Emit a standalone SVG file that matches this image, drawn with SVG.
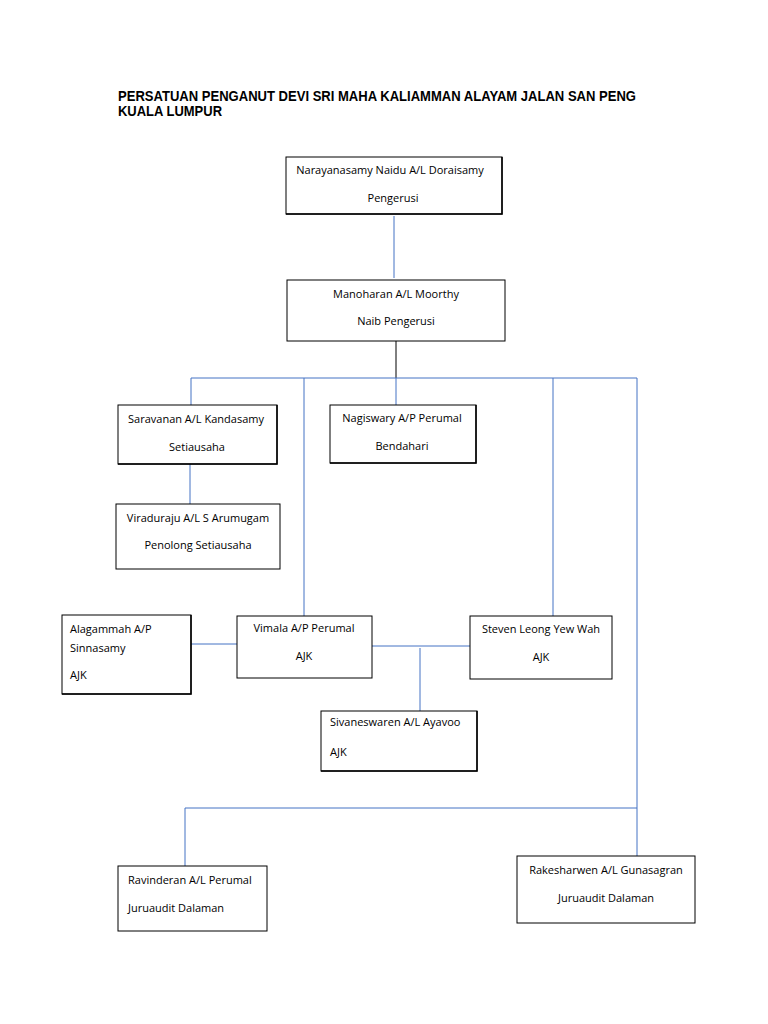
<svg xmlns="http://www.w3.org/2000/svg" width="768" height="1024" viewBox="0 0 768 1024">
<style>
.b{fill:#fff;stroke:#000;stroke-width:1}
.s{fill:none;stroke:#000;stroke-width:1.5}
text{font-family:"Open Sans","Liberation Sans",sans-serif;font-size:11px;fill:#000}
.c{text-anchor:middle}
.t{font-family:"Liberation Sans",sans-serif;font-weight:bold;font-size:14px}
.l{stroke:#4472c4;stroke-width:1;fill:none}
</style>
<rect width="768" height="1024" fill="#fff"/>
<text class="t" x="118" y="101" textLength="518" lengthAdjust="spacingAndGlyphs">PERSATUAN PENGANUT DEVI SRI MAHA KALIAMMAN ALAYAM JALAN SAN PENG</text>
<text class="t" x="118" y="116" textLength="104" lengthAdjust="spacingAndGlyphs">KUALA LUMPUR</text>
<g id="connectors">
<path class="l" d="M394 216V278"/>
<path d="M396 341V378" stroke="#000" fill="none"/>
<path class="l" d="M191 378H637M191 378V405M304 378V616M396 378V405M553 378V616M637 378V856M185 808H637M185 808V866M190 464V504M191 644H237M372 646H470M420 648V711"/>
</g>
<g id="n1"><rect class="b" x="286" y="157" width="216" height="57"/><path class="s" d="M502 157V214H286"/><text class="c" x="390" y="174">Narayanasamy Naidu A/L Doraisamy</text><text class="c" x="393" y="202">Pengerusi</text></g>
<g id="n2"><rect class="b" x="287" y="280" width="218" height="61" stroke-width="1.5"/><text class="c" x="396" y="298">Manoharan A/L Moorthy</text><text class="c" x="396" y="325">Naib Pengerusi</text></g>
<g id="n3"><rect class="b" x="118" y="405" width="159" height="59"/><path class="s" d="M277 405V464H118"/><text class="c" x="196" y="423">Saravanan A/L Kandasamy</text><text class="c" x="197" y="451">Setiausaha</text></g>
<g id="n4"><rect class="b" x="330" y="405" width="146" height="58"/><path class="s" d="M476 405V463H330"/><text class="c" x="402" y="422">Nagiswary A/P Perumal</text><text class="c" x="402" y="450">Bendahari</text></g>
<g id="n5"><rect class="b" x="116" y="504" width="164" height="65"/><text class="c" x="198" y="522">Viraduraju A/L S Arumugam</text><text class="c" x="198" y="549">Penolong Setiausaha</text></g>
<g id="n6"><rect class="b" x="62" y="615" width="129" height="79"/><path class="s" d="M191 615V694H62"/><text x="70" y="633">Alagammah A/P</text><text x="70" y="652">Sinnasamy</text><text x="70" y="679">AJK</text></g>
<g id="n7"><rect class="b" x="237" y="616" width="135" height="62"/><text class="c" x="304" y="632">Vimala A/P Perumal</text><text class="c" x="304" y="660">AJK</text></g>
<g id="n8"><rect class="b" x="470" y="616" width="142" height="63"/><text class="c" x="541" y="633">Steven Leong Yew Wah</text><text class="c" x="541" y="661">AJK</text></g>
<g id="n9"><rect class="b" x="321" y="711" width="156" height="60"/><path class="s" d="M477 711V771H321"/><text x="330" y="726">Sivaneswaren A/L Ayavoo</text><text x="330" y="756">AJK</text></g>
<g id="n10"><rect class="b" x="118" y="866" width="149" height="65"/><text x="128" y="884">Ravinderan A/L Perumal</text><text x="128" y="912">Juruaudit Dalaman</text></g>
<g id="n11"><rect class="b" x="517" y="856" width="178" height="67"/><text class="c" x="606" y="874">Rakesharwen A/L Gunasagran</text><text class="c" x="606" y="902">Juruaudit Dalaman</text></g>
</svg>
